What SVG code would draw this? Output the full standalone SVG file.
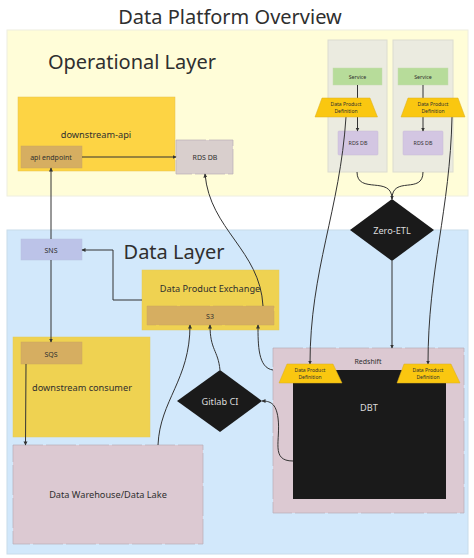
<svg xmlns="http://www.w3.org/2000/svg" width="474" height="558" viewBox="0 0 474 558">
<style>
text{font-family:"Noto Sans","Open Sans",sans-serif;text-anchor:middle;dominant-baseline:central;fill:#2f2f2f}
.xs{font-size:5px}.sm{font-size:5.300px}.md{font-size:7px}.lg{font-size:9.200px}.wh{fill:#ddd}
.trap{fill:#fac710;stroke:#d9ad20;stroke-width:.5}
.pan{fill:#ebebe0;stroke:#dcdcd0;stroke-width:1}
.svc{fill:#b7dc9a;stroke:#c6d9b0;stroke-width:.5}
.db{fill:#d3c6e2;stroke:#c6bad6;stroke-width:.5}
.tan{fill:#d6ae61;stroke:#cba75f;stroke-width:.5}
.rose{fill:#dcc9d2;stroke:#b9adb8;stroke-width:.7;stroke-dasharray:30 3}
.blk{fill:#1a1a1a}
.c{fill:none;stroke:#333;stroke-width:1}
.a{marker-end:url(#m)}
</style>
<defs><marker id="m" markerUnits="userSpaceOnUse" markerWidth="5" markerHeight="5" refX="3.500" refY="2" orient="auto"><path d="M0 0L4 2L0 4Z" fill="#333"/></marker></defs>
<rect width="474" height="558" fill="#fff"/>
<g id="title"><text x="230" y="16" font-size="20">Data Platform Overview</text></g>
<g id="operational-layer"><rect x="7" y="30" width="461" height="166" fill="#fffdd8" stroke="#eeeee0" stroke-width="1"/><text x="132" y="61" font-size="20">Operational Layer</text></g>
<g id="data-layer"><rect x="7" y="230" width="461" height="324" fill="#d2e8fb" stroke="#c8dcea" stroke-width="1"/><text x="174" y="251" font-size="20">Data Layer</text></g>
<g id="downstream-api"><rect x="18" y="97" width="157" height="74" fill="#fdd444" stroke="#e5c14d" stroke-width=".5"/><text x="96" y="134" class="lg">downstream-api</text></g>
<g id="api-endpoint"><rect class="tan" x="21" y="146" width="61" height="22"/><text x="51" y="157" class="md">api endpoint</text></g>
<g id="rds-main"><rect class="rose" x="176" y="140" width="57" height="34" style="fill:#d9cfcd"/><text x="205" y="157" class="md">RDS DB</text></g>
<g id="panel-1"><rect class="pan" x="328" y="40" width="59" height="132"/></g>
<g id="panel-2"><rect class="pan" x="393" y="40" width="60" height="132"/></g>
<g id="service-1"><rect class="svc" x="333" y="68" width="49" height="17"/><text x="357.500" y="76.500" class="sm">Service</text></g>
<g id="service-2"><rect class="svc" x="398" y="68" width="50" height="17"/><text x="423" y="76.500" class="sm">Service</text></g>
<g id="rds-1"><rect class="db" x="338" y="131" width="40" height="24" rx="1"/><text x="358" y="143" class="sm">RDS DB</text></g>
<g id="rds-2"><rect class="db" x="403" y="131" width="40" height="24" rx="1"/><text x="423" y="143" class="sm">RDS DB</text></g>
<g id="sns"><rect x="21" y="239" width="61" height="21" fill="#bcc3e8" stroke="#b6c0e0" stroke-width=".5"/><text x="51" y="250" class="md">SNS</text></g>
<g id="data-product-exchange"><rect x="142" y="270" width="137" height="60" fill="#efd251" stroke="#e4ca5c" stroke-width=".5"/><text x="210" y="288" class="lg">Data Product Exchange</text></g>
<g id="s3"><rect class="tan" x="147" y="306" width="127" height="19" stroke-dasharray="30 3"/><text x="210" y="316" class="md">S3</text></g>
<g id="downstream-consumer"><rect x="13" y="337" width="137" height="100" fill="#efd251" stroke="#e4ca5c" stroke-width=".5"/><text x="82" y="387" class="lg">downstream consumer</text></g>
<g id="sqs"><rect class="tan" x="21" y="342" width="61" height="22"/><text x="51" y="354" class="md">SQS</text></g>
<g id="data-warehouse"><rect class="rose" x="13" y="445" width="190" height="99"/><text x="108" y="494" class="lg">Data Warehouse/Data Lake</text></g>
<g id="redshift"><rect class="rose" x="273" y="348" width="191" height="165"/><text x="368" y="361" class="md">Redshift</text></g>
<g id="dbt"><rect class="blk" x="293" y="370" width="153" height="129"/><text x="369" y="407" class="lg wh">DBT</text></g>
<g id="zero-etl"><path class="blk" d="M392 199L434 230L392 261L350 230Z"/><text x="392" y="230" class="lg wh">Zero-ETL</text></g>
<g id="gitlab-ci"><path class="blk" d="M220 370L262 401L220 432L177 401Z"/><text x="220" y="401" class="lg wh">Gitlab CI</text></g>
<g id="connectors">
<path class="c a" d="M82 157H176"/>
<path class="c a" d="M51 239V168"/>
<path class="c a" d="M51 260V342"/>
<path class="c a" d="M142 300H113V250H82"/>
<path class="c a" d="M26 364L25.500 445"/>
<path class="c a" d="M158 445C160 400 190 380 190 325"/>
<path class="c a" d="M220 370C218 350 210 350 210 325"/>
<path class="c a" d="M273 370C258 368 258 345 258 325"/>
<path class="c a" d="M293 461C270 461 281 440 278 418C276 403 270 401 262 401"/>
<path class="c a" d="M263 306C260 250 210 230 205 174"/>
<path class="c a" d="M357.500 85V131"/>
<path class="c a" d="M423 85V131"/>
<path class="c" d="M357 172C357 195 392 175 392 199"/>
<path class="c a" d="M423 172C423 195 392 175 392 199"/>
<path class="c a" d="M392 261V348"/>
<path class="c a" d="M346 117C340 210 310 270 310 364"/>
<path class="c a" d="M452 117C450 210 428 270 428 364"/>
</g>
<g id="dpd-1"><path class="trap" d="M322 98H370L377.500 117H315Z"/><text x="346" y="107.500" class="xs"><tspan x="346" dy="-3.500">Data Product</tspan><tspan x="346" dy="7">Definition</tspan></text></g>
<g id="dpd-2"><path class="trap" d="M408 98H458L465 117H401Z"/><text x="433" y="107.500" class="xs"><tspan x="433" dy="-3.500">Data Product</tspan><tspan x="433" dy="7">Definition</tspan></text></g>
<g id="dpd-3"><path class="trap" d="M287 364H333L342 383H279Z"/><text x="310" y="373.500" class="xs"><tspan x="310" dy="-3.500">Data Product</tspan><tspan x="310" dy="7">Definition</tspan></text></g>
<g id="dpd-4"><path class="trap" d="M404 364H451L460 383H397Z"/><text x="428" y="373.500" class="xs"><tspan x="428" dy="-3.500">Data Product</tspan><tspan x="428" dy="7">Definition</tspan></text></g>
</svg>
